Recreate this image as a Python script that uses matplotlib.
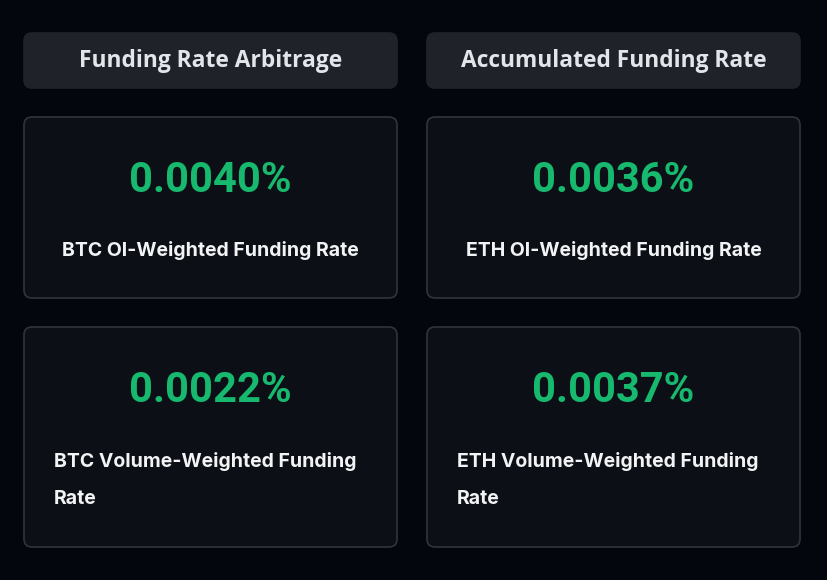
import matplotlib.pyplot as plt
from matplotlib.patches import FancyBboxPatch

# panel content
section_titles = ["Funding Rate Arbitrage", "Accumulated Funding Rate"]
top_values = ["0.0040%", "0.0036%"]
top_labels = ["BTC OI-Weighted Funding Rate", "ETH OI-Weighted Funding Rate"]
bottom_values = ["0.0022%", "0.0037%"]
bottom_labels = ["BTC Volume-Weighted Funding\nRate", "ETH Volume-Weighted Funding\nRate"]

BG = "#04060d"
HEADER_BG = "#1f2229"
CARD_BG = "#0c0f15"
CARD_EDGE = "#30343c"
GREEN = "#17b96f"

fig = plt.figure(figsize=(8.28, 5.80), dpi=100, facecolor=BG)
ax = fig.add_axes([0, 0, 1, 1])
ax.set_xlim(0, 828)
ax.set_ylim(580, 0)
ax.axis("off")
ax.set_facecolor(BG)

col_x = [24, 427]
col_w = 373


def box(x, y, w, h, fc, ec, r=8):
    p = FancyBboxPatch((x + r, y + r), w - 2 * r, h - 2 * r,
                       boxstyle=f"round,pad={r}", fc=fc, ec=ec, lw=1.2)
    ax.add_patch(p)


for i in range(2):
    x = col_x[i]
    cx = x + col_w / 2

    # header
    box(x, 33, col_w, 55, HEADER_BG, HEADER_BG)
    ax.text(cx, 61, section_titles[i], color="#e2e5ea", fontsize=16.4,
            fontfamily="Open Sans", fontweight="bold", ha="center", va="center")

    # top card
    box(x, 117, col_w, 181, CARD_BG, CARD_EDGE)
    ax.text(cx, 180, top_values[i], color=GREEN, fontsize=30,
            fontfamily="Roboto", fontweight="bold", ha="center", va="center")
    ax.text(cx, 250, top_labels[i], color="#f2f3f5", fontsize=14,
            fontfamily="Inter", fontweight="bold", ha="center", va="center")

    # bottom card
    box(x, 327, col_w, 220, CARD_BG, CARD_EDGE)
    ax.text(cx, 390, bottom_values[i], color=GREEN, fontsize=30,
            fontfamily="Roboto", fontweight="bold", ha="center", va="center")
    ax.text(x + 30, 480, bottom_labels[i], color="#f2f3f5", fontsize=14,
            fontfamily="Inter", fontweight="bold", ha="left", va="center",
            linespacing=2.4)

fig.savefig("out.png", dpi=100, facecolor=BG)
